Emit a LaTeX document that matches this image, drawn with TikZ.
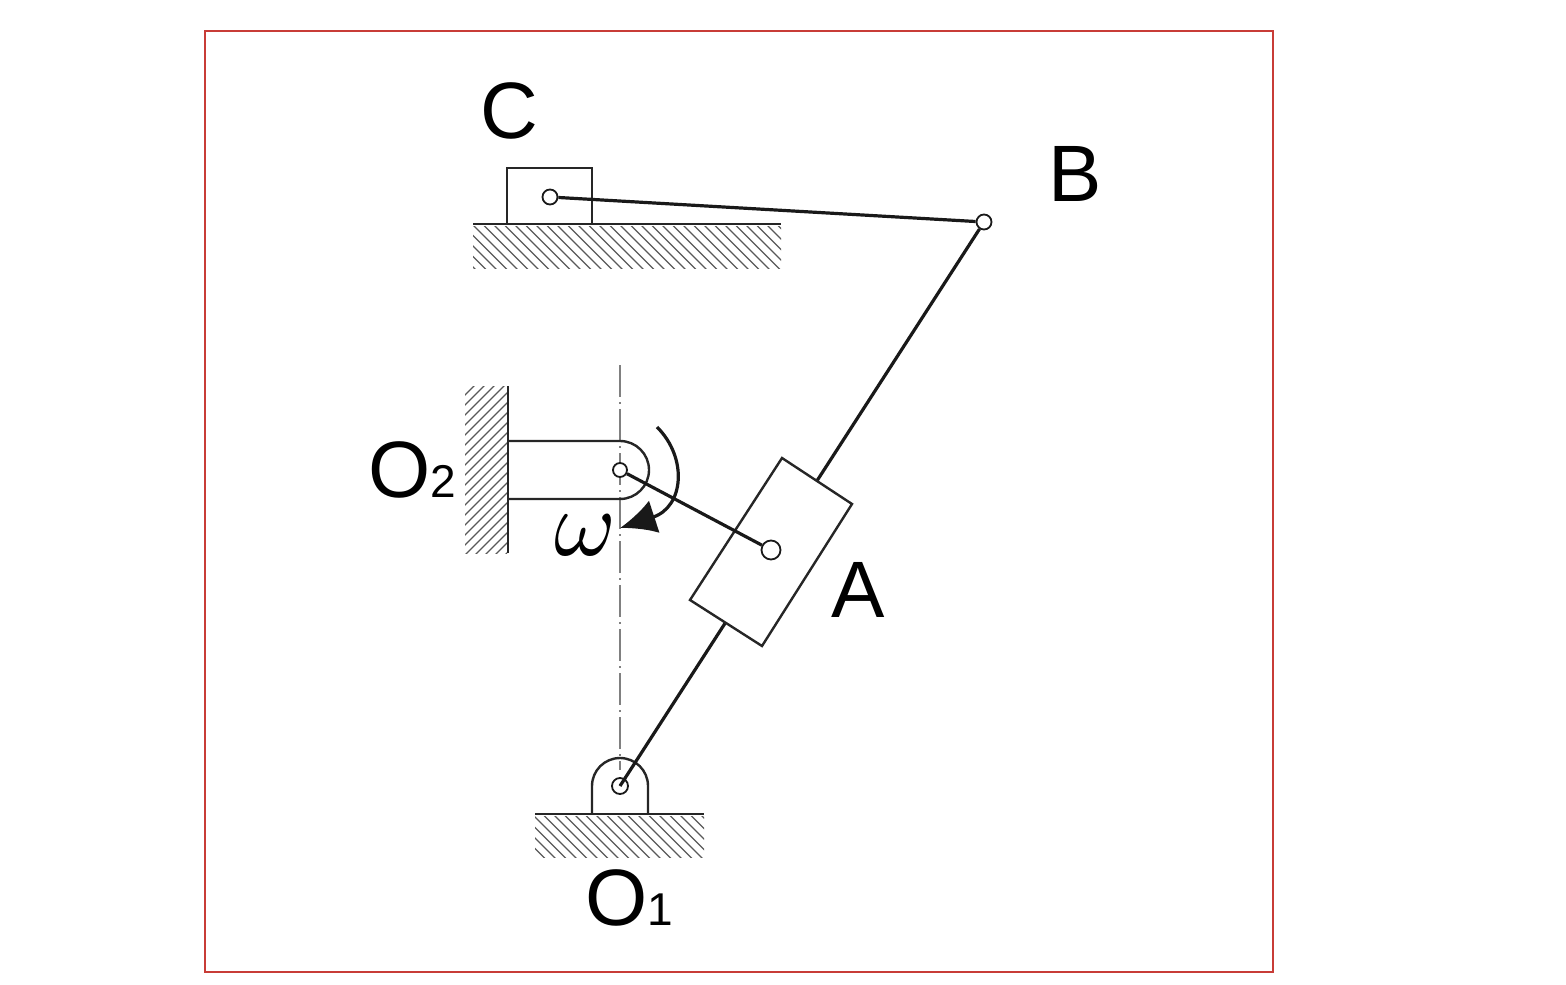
\documentclass[tikz,border=0pt]{standalone}
\usepackage{fontspec}
\setmainfont{Liberation Sans}
\usetikzlibrary{arrows.meta}
\definecolor{framered}{RGB}{200,60,55}
\tikzset{>=latex}
\tikzset{%
  rod/.style={line width=1.6pt, black!90},
  thin part/.style={line width=1.2pt, black!85},
  hatch/.style={line width=0.6pt, black!65},
  pivot/.style={circle, draw=black!90, line width=0.9pt, fill=white, inner sep=0pt},
  axis line/.style={line width=0.6pt, black!50, dash pattern=on 16pt off 2.5pt on 1pt off 2.5pt},
  big label/.style={font=\fontsize{40}{40}\selectfont, inner sep=0pt, anchor=base},
}
% small digit beside the O
\newcommand{\idx}[1]{{\fontsize{23}{23}\selectfont #1}}
\begin{document}
\begin{tikzpicture}[x=0.5pt, y=-0.5pt]
  \useasboundingbox (0,0) rectangle (1566,984);

  % frame
  \draw[framered, line width=1pt] (205,31) rectangle (1273,972);

  % set up basic coordinates
  \coordinate (S1) at (782,458);
  \coordinate (S2) at (852,504);
  \coordinate (S3) at (762,646);
  \coordinate (S4) at (690,600);

  % centre line
  \coordinate (axisTop) at (620,365);
  \coordinate (axisBottom) at (620,770);
  \draw[axis line] (axisTop) -- (axisBottom);

  % ground under the block C
  \begin{scope}
    \clip (473,226) rectangle (781,268);
    \foreach \i in {0,10.5,...,360}
      \draw[hatch] (430+\i,224) -- +(48,48);
  \end{scope}
  \draw[thin part] (473,224) -- (781,224);

  % ground under O1
  \begin{scope}
    \clip (535,816) rectangle (704,857);
    \foreach \i in {0,10.5,...,220}
      \draw[hatch] (490+\i,814) -- +(48,48);
  \end{scope}
  \draw[thin part] (535,814) -- (704,814);

  % wall behind O2
  \begin{scope}
    \clip (465,386) rectangle (507,553);
    \foreach \i in {-40,-30,...,180}
      \draw[hatch] (510,380+\i) -- +(-48,48);
  \end{scope}
  \draw[thin part] (508,386) -- (508,553);

  % block C, bearing O2, bearing O1
  \draw[thin part] (507,224) -- (507,168) -- (592,168) -- (592,224);
  \draw[thin part] (508,441) -- (620,441) arc[start angle=90, end angle=-90, radius=14.5pt] -- (508,499);
  \draw[thin part] (592,814) -- (592,786) arc[start angle=180, end angle=0, radius=14pt] -- (648,814);

  % joints
  \node[pivot, minimum size=7.5pt] (pivotC) at (550,197) {};
  \node[pivot, minimum size=7.5pt] (pivotB) at (984,222) {};
  \node[pivot, minimum size=7pt] (pivotO2) at (620,470) {};
  \node[pivot, minimum size=8pt, fill=none] (pivotO1) at (620,786) {};

  % rods, the slider goes over the long one
  \draw[rod] (pivotC) -- (pivotB);
  \draw[rod] (pivotO1.center) -- (pivotB);
  \draw[thin part, fill=white] (S1) -- (S2) -- (S3) -- (S4) -- cycle;
  \node[pivot, minimum size=9.5pt] (pivotA) at (771,550) {};
  \draw[rod] (pivotO2) -- (pivotA);

  % rotation arrow
  \coordinate (omegaStart) at (657,427);
  \coordinate (omegaEnd) at (620,528);
  \draw[rod, -{Latex[length=18pt, width=17pt]}] (omegaStart) .. controls (688,458) and (684,507) .. (omegaEnd);

  % labels
  \node[big label] (labelC) at (509,139) {C};
  \node[big label] (labelB) at (1075,202) {B};
  \node[big label] (labelA) at (858,617) {A};
  \node[big label, anchor=base west] (labelOtwo) at (368,497) {O\idx{2}};
  \node[big label, anchor=base west] (labelOone) at (585,925) {O\idx{1}};
  \node[inner sep=0pt, scale=4.7, transform shape] (labelOmega) at (585,535) {$\omega$};
\end{tikzpicture}
\end{document}
